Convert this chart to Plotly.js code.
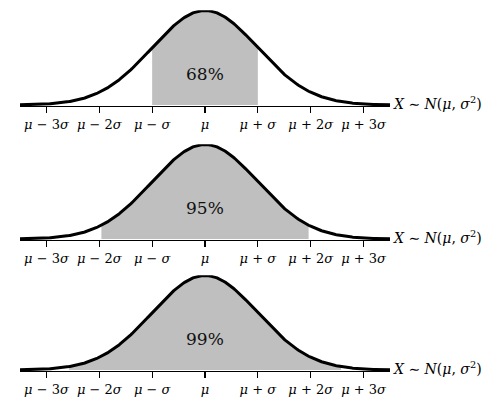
<!DOCTYPE html>
<html>
<head>
<meta charset="utf-8">
<script src="https://cdn.plot.ly/plotly-3.0.1.min.js"></script>
<style>html,body{margin:0;padding:0;background:#fff}</style>
</head>
<body>
<div id="chart" style="width:493px;height:412px"></div>
<script>
// Data
const tickPositions = [-3, -2, -1, 0, 1, 2, 3];
const tickLabels = [
  "<i>μ</i> − 3<i>σ</i>", "<i>μ</i> − 2<i>σ</i>", "<i>μ</i> − <i>σ</i>", "<i>μ</i>",
  "<i>μ</i> + <i>σ</i>", "<i>μ</i> + 2<i>σ</i>", "<i>μ</i> + 3<i>σ</i>"
];
const percentLabels = ["68%", "95%", "99%"];
const shadeHalfWidths = [1, 1.96, 2.576];
const xMin = -3.5, xMax = 3.5;
const distLabel = "<i>X</i> ∼ <i>N</i>(<i>μ</i>, <i>σ</i><sup>2</sup>)";

function pdf(x) { return Math.exp(-x * x / 2) / Math.sqrt(2 * Math.PI); }
function samples(a, b, n) {
  const xs = [], ys = [];
  for (let i = 0; i <= n; i++) { const x = a + (b - a) * i / n; xs.push(x); ys.push(pdf(x)); }
  return { xs, ys };
}

const FONT = "DejaVu Serif";
const H = 412;
const axisPix = [106, 240, 371];
const pxPerUnit = 94.5 / pdf(0);
const yLo = -0.004, yHi = 0.4;

const traces = [], annotations = [];
const layout = {
  width: 493, height: 412,
  margin: { l: 20, r: 103, t: 0, b: 0 },
  paper_bgcolor: "#fff", plot_bgcolor: "rgba(0,0,0,0)",
  showlegend: false,
  font: { family: FONT, color: "#000" }
};

for (let k = 0; k < 3; k++) {
  const sfx = k === 0 ? "" : String(k + 1);
  const xa = "x" + sfx, ya = "y" + sfx;
  const bottomPix = axisPix[k];
  const topPix = bottomPix - (yHi - yLo) * pxPerUnit;
  const a = shadeHalfWidths[k];
  const s = samples(-a, a, 200);
  traces.push({ x: s.xs, y: s.ys, xaxis: xa, yaxis: ya, type: "scatter", mode: "lines",
    fill: "tozeroy", fillcolor: "#bfbfbf", line: { width: 0, color: "rgba(0,0,0,0)" }, hoverinfo: "skip" });
  const c = samples(xMin, xMax, 400);
  traces.push({ x: c.xs, y: c.ys, xaxis: xa, yaxis: ya, type: "scatter", mode: "lines",
    line: { width: 3, color: "#000" }, hoverinfo: "skip" });

  layout["xaxis" + sfx] = {
    domain: [0, 1], anchor: ya, range: [xMin, xMax], fixedrange: true,
    showgrid: false, zeroline: false, showline: true, linecolor: "#000", linewidth: 1.2,
    ticks: "outside", ticklen: 6, tickwidth: 1.2, tickcolor: "#000",
    tickvals: tickPositions, ticktext: tickLabels,
    tickfont: { size: 13, color: "#000", family: FONT },
    automargin: false
  };
  layout["yaxis" + sfx] = {
    domain: [1 - bottomPix / H, 1 - topPix / H], anchor: xa, range: [yLo, yHi],
    visible: false, fixedrange: true
  };
  annotations.push({ xref: xa, yref: ya, x: 0, y: 0.13, text: percentLabels[k], showarrow: false,
    font: { size: 17, color: "#111", family: FONT } });
  annotations.push({ xref: xa, yref: ya, x: xMax, y: yLo, xanchor: "left", yanchor: "middle",
    xshift: 1, yshift: 3, text: distLabel, showarrow: false,
    font: { size: 14, color: "#000", family: FONT } });
}
layout.annotations = annotations;

Plotly.newPlot("chart", traces, layout, { displayModeBar: false, staticPlot: true });
</script>
</body>
</html>
